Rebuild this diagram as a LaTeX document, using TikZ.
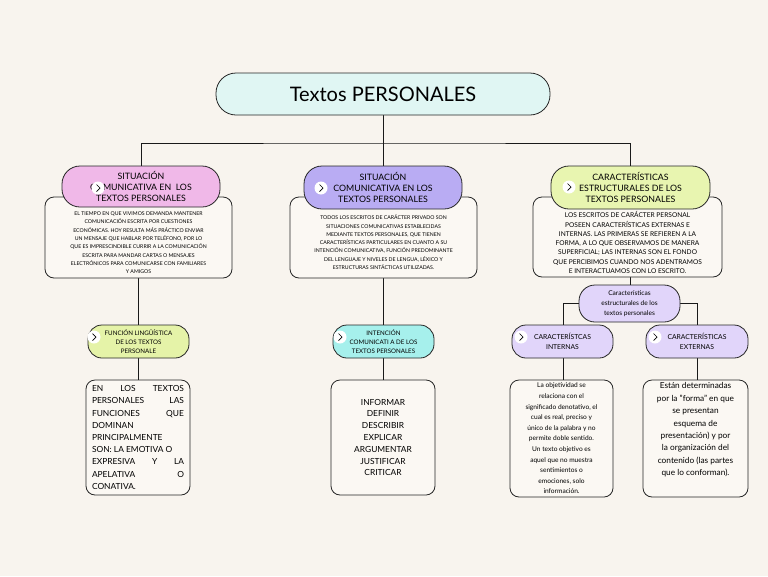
\documentclass[tikz,border=0pt]{standalone}
\usepackage{fontspec}
\setmainfont{Lato}
\usetikzlibrary{calc}
\definecolor{bg}{HTML}{F8F4EE}
\definecolor{ttl}{HTML}{E0F6F3}
\definecolor{pinkc}{HTML}{F0B8E8}
\definecolor{lavc}{HTML}{B9ACF3}
\definecolor{limec}{HTML}{E8F5B0}
\definecolor{lime2}{HTML}{E5F3A8}
\definecolor{cyanc}{HTML}{A6F0EC}
\definecolor{lilac}{HTML}{E1D5FA}
\definecolor{txtbox}{HTML}{FBF8F3}
\tikzset{
  pill/.style={draw=black!85, line width=0.8pt, rounded corners=16pt, align=center, inner sep=0pt},
  tbox/.style={draw=black!85, line width=0.8pt, rounded corners=9pt, fill=txtbox, align=center, inner sep=0pt},
  conn/.style={line width=0.8pt, black!90},
  chev/.style={circle, fill=white, minimum size=13pt, inner sep=0pt}
}
\newcommand{\chevat}[2]{\node[chev] (#1) at (#2) {}; \draw[line width=0.7pt] ($(#1)+(-1.5,3.5)$) -- ($(#1)+(2,0)$) -- ($(#1)+(-1.5,-3.5)$);}
\begin{document}
\begin{tikzpicture}[x=1pt,y=-1pt]
\fill[bg] (0,0) rectangle (768,576);
\useasboundingbox (0,0) rectangle (768,576);
% connectors
\coordinate (hub) at (383,143);
\draw[conn] (383,115) -- (hub);
\draw[conn] (141,166) |- (hub) -| (630,166);
\draw[conn] (383,143) -- (383,166);
\draw[conn] (138,278) -- (138,325);
\draw[conn] (138,358) -- (138,380);
\draw[conn] (383,278) -- (383,325);
\draw[conn] (383,358) -- (383,380);
\draw[conn] (630,277) -- (630,285);
\draw[conn] (579,303) -| (563,325);
\draw[conn] (680,303) -| (697,325);
\draw[conn] (563,358) -- (563,380);
\draw[conn] (697,358) -- (697,380);
% title
\node[pill, fill=ttl, minimum width=334pt, minimum height=42pt, rounded corners=20pt, font=\fontsize{20}{22}\selectfont] (title) at (383,94) {Textos PERSONALES};
% text boxes
\node[tbox, minimum width=187pt, minimum height=81pt, font=\fontsize{5.2}{8.3}\selectfont] (t1) at (138.5,237.5) {\\[6pt]EL TIEMPO EN QUE VIVIMOS DEMANDA MANTENER\\COMUNICACIÓN ESCRITA POR CUESTIONES\\ECONÓMICAS. HOY RESULTA MÁS PRÁCTICO ENVIAR\\UN MENSAJE QUE HABLAR POR TELÉFONO, POR LO\\QUE ES IMPRESCINDIBLE CURRIR A LA COMUNICACIÓN\\ESCRITA PARA MANDAR CARTAS O MENSAJES\\ELECTRÓNICOS PARA COMUNICARSE CON FAMILIARES\\Y AMIGOS};
\node[tbox, minimum width=187pt, minimum height=81pt, font=\fontsize{5.2}{8.3}\selectfont] (t2) at (383.5,237.5) {\\[6pt]TODOS LOS ESCRITOS DE CARÁCTER PRIVADO SON\\SITUACIONES COMUNICATIVAS ESTABLECIDAS\\MEDIANTE TEXTOS PERSONALES, QUE TIENEN\\CARACTERÍSTICAS PARTICULARES EN CUANTO A SU\\INTENCIÓN COMUNICATIVA, FUNCIÓN PREDOMINANTE\\DEL LENGUAJE Y NIVELES DE LENGUA, LÉXICO Y\\ESTRUCTURAS SINTÁCTICAS UTILIZADAS.};
\node[tbox, minimum width=189pt, minimum height=80pt, font=\fontsize{6.6}{9.3}\selectfont] (t3) at (627.5,237) {\\[8pt]LOS ESCRITOS DE CARÁCTER PERSONAL\\POSEEN CARACTERÍSTICAS EXTERNAS E\\INTERNAS. LAS PRIMERAS SE REFIEREN A LA\\FORMA, A LO QUE OBSERVAMOS DE MANERA\\SUPERFICIAL; LAS INTERNAS SON EL FONDO\\QUE PERCIBIMOS CUANDO NOS ADENTRAMOS\\E INTERACTUAMOS CON LO ESCRITO.};
% headers
\node[pill, fill=pinkc, minimum width=158pt, minimum height=41pt, rounded corners=18pt, font=\fontsize{8.8}{11}\selectfont] (h1) at (141,186.5) {SITUACIÓN\\COMUNICATIVA EN \ LOS\\TEXTOS PERSONALES};
\node[pill, fill=lavc, minimum width=158pt, minimum height=43pt, rounded corners=18pt, font=\fontsize{8.8}{11}\selectfont] (h2) at (383,187.5) {SITUACIÓN\\COMUNICATIVA EN LOS\\TEXTOS PERSONALES};
\node[pill, fill=limec, minimum width=159pt, minimum height=43pt, rounded corners=18pt, font=\fontsize{8.8}{11}\selectfont] (h3) at (630.5,187.5) {CARACTERÍSTICAS\\ESTRUCTURALES DE LOS\\TEXTOS PERSONALES};
\chevat{c1}{98,188}
\chevat{c2}{321,188}
\chevat{c3}{569,187}
% second level
\node[pill, fill=lime2, minimum width=101pt, minimum height=33pt, rounded corners=14pt, font=\fontsize{6.2}{9}\selectfont] (f1) at (138.5,341.5) {FUNCIÓN LINGÜÍSTICA\\DE LOS TEXTOS\\PERSONALE};
\node[pill, fill=cyanc, minimum width=101pt, minimum height=33pt, rounded corners=14pt, font=\fontsize{6.2}{9}\selectfont] (f2) at (383.5,341.5) {INTENCIÓN\\COMUNICATI A DE LOS\\TEXTOS PERSONALES};
\chevat{c4}{94,337}
\chevat{c5}{340,337}
\node[pill, fill=lilac, minimum width=101pt, minimum height=37pt, rounded corners=16pt, font=\fontsize{6.6}{10}\selectfont] (cs) at (629.5,303.5) {Características\\estructurales de los\\textos personales};
\node[pill, fill=lilac, minimum width=101pt, minimum height=33pt, rounded corners=14pt, font=\fontsize{6.8}{10}\selectfont] (ci) at (562.5,341.5) {CARACTERÍSTCAS\\INTERNAS};
\node[pill, fill=lilac, minimum width=102pt, minimum height=33pt, rounded corners=14pt, font=\fontsize{6.8}{10}\selectfont] (ce) at (697,341.5) {CARACTERÍSTICAS\\EXTERNAS};
\chevat{c6}{521,337}
\chevat{c7}{655,337}
% bottom text boxes
\node[tbox, minimum width=104pt, minimum height=115pt, font=\fontsize{8.4}{12.2}\selectfont] (b1) at (138,437.5) {\parbox{92pt}{\linespread{1}\fontsize{8.4}{12.2}\selectfont\raggedright EN\hfill LOS\hfill TEXTOS\\PERSONALES\hfill LAS\\FUNCIONES\hfill QUE\\DOMINAN\\PRINCIPALMENTE\\SON: LA EMOTIVA O\\EXPRESIVA\hfill Y\hfill LA\\APELATIVA\hfill O\\CONATIVA.}};
\node[tbox, minimum width=104pt, minimum height=115pt, font=\fontsize{8.4}{11.8}\selectfont] (b2) at (383,437.5) {INFORMAR\\DEFINIR\\DESCRIBIR\\EXPLICAR\\ARGUMENTAR\\JUSTIFICAR\\CRITICAR};
\node[tbox, minimum width=103pt, minimum height=117pt, font=\fontsize{6.6}{10.6}\selectfont] (b3) at (561.5,438.5) {La objetividad se\\relaciona con el\\significado denotativo, el\\cual es real, preciso y\\único de la palabra y no\\permite doble sentido.\\Un texto objetivo es\\aquel que no muestra\\sentimientos o\\emociones, solo\\información.};
\node[tbox, minimum width=105pt, minimum height=117pt, font=\fontsize{8.3}{12.4}\selectfont] (b4) at (695.5,438.5) {Están determinadas\\por la "forma" en que\\se presentan\\esquema de\\presentación) y por\\la organización del\\contenido (las partes\\que lo conforman).\\[6pt]};
\end{tikzpicture}
\end{document}
